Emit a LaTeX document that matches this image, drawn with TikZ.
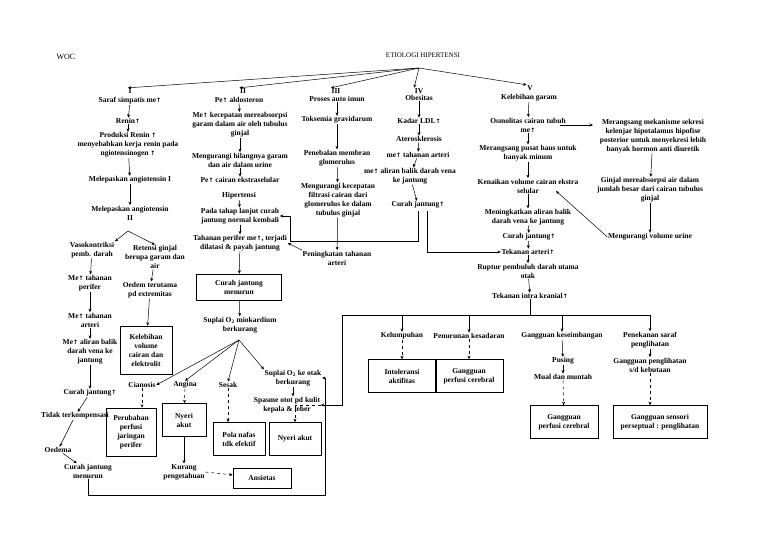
\documentclass[tikz,border=0pt]{standalone}
\usepackage{fontspec}
\setmainfont{Liberation Serif}
\newfontfamily\sym{DejaVu Sans}
\usetikzlibrary{arrows.meta}
\newcommand{\up}{{\sym\fontsize{6}{7}\selectfont↑}}
\begin{document}
\begin{tikzpicture}[x=1pt,y=-1pt,
  every node/.style={font=\fontsize{7.5}{9}\selectfont\bfseries, align=center, inner sep=0.5pt},
  bx/.style={draw, line width=0.6pt, minimum width=#1, minimum height=30pt},
  ar/.style={-{Stealth[length=3.5pt,width=3pt]}, line width=0.5pt},
  da/.style={ar, dashed},
  ln/.style={line width=0.6pt}]
\useasboundingbox (0,0) rectangle (768,543);
\node (woc) at (66,57) {\fontsize{8}{9}\selectfont\mdseries WOC};
\node (eti) at (423,55) {\fontsize{7}{8}\selectfont\mdseries ETIOLOGI HIPERTENSI};
\coordinate (r) at (419,68);
\node (n1) at (130,91) {I};
\node (n2) at (243,91) {II};
\node (n3) at (336,91) {III};
\node (n4) at (419,91) {IV};
\node (n5) at (530,88) {V};
\foreach \n in {n1,n2,n3,n4,n5} \draw[ar] (r) -- (\n.north west);
% column I
\node (a1) at (130,101) {Saraf simpatis me\up};
\node (a2) at (128,121) {Renin\up};
\node (a3) at (128,145) {Produksi Renin \up\\menyebabkan kerja renin pada\\ngiotensinogen \up};
\node (a4) at (130,180) {Melepaskan angiotensin I};
\node (a5) at (130,213) {Melepaskan angiotensin\\II};
\node (a6) at (92,250) {Vasokontriksi\\pemb. darah};
\node (a7) at (90,283) {Me\up\ tahanan\\perifer};
\node (a8) at (90,320) {Me\up\ tahanan\\arteri};
\node (a9) at (90,352) {Me\up\ aliran balik\\darah vena ke\\jantung};
\node (a10) at (90,393) {Curah jantung\up};
\node (a11) at (75,416) {Tidak terkompensasi};
\node (a12) at (58,450) {Oedema};
\node (a13) at (88,471) {Curah jantung\\menurun};
\node (b1) at (155,257) {Retensi ginjal\\berupa garam dan\\air};
\node (b2) at (150,290) {Oedem terutama\\pd extremitas};
\node[bx=52pt,minimum height=48pt] (b3) at (146,350) {Kelebihan\\volume\\cairan dan\\elektrolit};
\draw[ar] (a1)--(a2); \draw[ar] (a2)--(a3); \draw[ar] (a3)--(a4); \draw[ar] (a4)--(a5);
\coordinate (sp) at (128,231);
\draw[ar] (sp)--(a6.north east); \draw[ar] (sp)--(b1.north);
\draw[ar] (a6)--(a7); \draw[ar] (a7)--(a8); \draw[ar] (a8)--(a9); \draw[ar] (a9)--(a10);
\draw[ar] (a10)--(a11); \draw[ar] (a11)--(a12); \draw[ar] (a12)--(a13);
\draw[ar] (b1)--(b2); \draw[ar] (b2)--(b3);
% column II
\node (c1) at (239,100) {Pe\up\ aldosteron};
\node (c2) at (240,125) {Me\up\ kecepatan mereabsorpsi\\garam dalam air oleh tubulus\\ginjal};
\node (c3) at (240,160) {Mengurangi hilangnya garam\\dan air dalam urine};
\node (c4) at (240,180) {Pe\up\ cairan ekstraselular};
\node (c5) at (239,196) {Hipertensi};
\node (c6) at (240,216) {Pada tahap lanjut curah\\jantung normal kembali};
\node (c7) at (240,243) {Tahanan perifer me\up, terjadi\\dilatasi \& payah jantung};
\node[bx=85pt,minimum height=26pt] (c8) at (239,287) {Curah jantung\\menurun};
\node (c9) at (240,325) {Suplai O\textsubscript{2} miokardium\\berkurang};
\draw[ar] (c1)--(c2); \draw[ar] (c2)--(c3); \draw[ar] (c3)--(c4); \draw[ar] (c5)--(c6);
\draw[ar] (c6)--(c7); \draw[ar] (c7)--(c8); \draw[ar] (c8)--(c9);
\coordinate (sp2) at (239,340);
\node (d1) at (142,385) {Cianosis};
\node (d2) at (185,385) {Angina};
\node (d3) at (228,385) {Sesak};
\node (d4) at (293,378) {Suplai O\textsubscript{2} ke otak\\berkurang};
\draw[ar] (sp2)--(d1.east); \draw[ar] (sp2)--(d2.north); \draw[ar] (sp2)--(d3.north); \draw[ar] (sp2)--(d4.north west);
\node[bx=50pt,minimum height=48pt] (e1) at (131,432) {Perubahan\\perfusi\\jaringan\\perifer};
\node[bx=44pt,minimum height=33pt] (e2) at (184,420) {Nyeri\\akut};
\node (e3) at (184,472) {Kurang\\pengetahuan};
\node[bx=58pt,minimum height=20pt] (e4) at (262,478) {Ansietas};
\node[bx=52pt,minimum height=33pt] (e5) at (239,439) {Pola nafas\\tdk efektif};
\node (e6) at (287,405) {Spasme otot pd kulit\\kepala \& leher};
\node[bx=52pt,minimum height=33pt] (e7) at (295,439) {Nyeri akut};
\draw[da] (d1)--(d1|-e1.north); \draw[da] (d2)--(e2); \draw[ar] (e2)--(e3); \draw[da] (e3.east)--(e4);
\draw[da] (d3)--(d3|-e5.north); \draw[ar] (d4)--(d4|-e6.north); \draw[da] (e6)--(e6-|e7) -- (e7.north);
\draw[ar,ln] (a13.south) |- (325,495) |- (d4.east);
% column III
\node (f1) at (337,99) {Proses auto imun};
\node (f2) at (337,120) {Toksemia gravidarum};
\node (f3) at (337,158) {Penebalan membran\\glomerulus};
\node (f4) at (338,200) {Mengurangi kecepatan\\filtrasi cairan dari\\glomerulus ke dalam\\tubulus ginjal};
\node (f5) at (337,258) {Peningkatan tahanan\\arteri};
\draw[ar] (f1)--(f2); \draw[ar] (f2)--(f3); \draw[ar] (f3)--(f4); \draw[ar] (f4)--(f5);
\draw[ar] (f5.north west)--(c7.east);
% column IV
\node (g1) at (419,98) {Obesitas};
\node (g2) at (419,121) {Kadar LDL\up};
\node (g3) at (419,139) {Aterosklerosis};
\node (g4) at (418,155) {me\up\ tahanan arteri};
\node (g5) at (410,176) {me\up\ aliran balik darah vena\\ke jantung};
\node (g6) at (418,205) {Curah jantung\up};
\draw[ar] (g1)--(g2); \draw[ar] (g2)--(g3); \draw[ar] (g3)--(g4); \draw[ar] (g4)--(g5); \draw[ar] (g5)--(g6);
\draw[ar,ln] (418,211) |- (290,241) |- (c6.east);
% column V
\node (h1) at (529,98) {Kelebihan garam};
\node (h2) at (528,125) {Osmolitas cairan tubuh\\me\up};
\node (h3) at (528,153) {Merangsang pusat haus untuk\\banyak minum};
\node (h4) at (528,186) {Kenaikan volume cairan ekstra\\selular};
\node (h5) at (528,217) {Meningkatkan aliran balik\\darah vena ke jantung};
\node (h6) at (529,237) {Curah jantung\up};
\node (h7) at (528,252) {Tekanan arteri\up};
\node (h8) at (528,271) {Ruptur pembuluh darah utama\\otak};
\node (h9) at (530,296) {Tekanan intra kranial\up};
\draw[ar] (h1)--(h2); \draw[ar] (h2)--(h3); \draw[ar] (h3)--(h4); \draw[ar] (h4)--(h5); \draw[ar] (h5)--(h6);
\draw[ar] (h6)--(h7); \draw[ar] (h7)--(h8); \draw[ar] (h8)--(h9);
\draw[ar,ln] (427,211) |- (h7.west);
\node (i1) at (653,136) {Merangsang mekanisme sekresi\\kelenjar hipotalamus hipofise\\posterior untuk menyekresi lebih\\banyak hormon anti diuretik};
\node (i2) at (650,190) {Ginjal mereabsorpsi air dalam\\jumlah besar dari cairan tubulus\\ginjal};
\node (i3) at (650,237) {Mengurangi volume urine};
\draw[ar] (560,125)--(593,125);
\draw[ar] (i1)--(i2); \draw[ar] (i2)--(i3); \draw[ar] (i3.west)--(556,191);
% intracranial branch
\draw[ln] (h9.south) -- (530,315);
\draw[ln] (342,315) -- (650,315);
\draw[ar,ln] (342,315) |- (e6.east);
\node (j1) at (402,336) {Kelumpuhan};
\node (j2) at (469,336) {Penurunan kesadaran};
\node (j3) at (562,336) {Gangguan keseimbangan};
\node (j4) at (650,340) {Penekanan saraf\\penglihatan};
\foreach \j in {j1,j2,j3,j4} \draw[ar] (\j |- 0,315)--(\j.north);
\node[bx=68pt,minimum height=33pt] (k1) at (402,376) {Intoleransi\\aktifitas};
\node[bx=68pt,minimum height=33pt] (k2) at (469,376) {Gangguan\\perfusi cerebral};
\node (k3) at (563,361) {Pusing};
\node (k4) at (563,377) {Mual dan muntah};
\node[bx=68pt,minimum height=33pt] (k5) at (564,422) {Gangguan\\perfusi cerebral};
\node (k6) at (650,365) {Gangguan penglihatan\\s/d kebutaan};
\node[bx=94pt,minimum height=33pt] (k7) at (660,422) {Gangguan sensori\\perseptual : penglihatan};
\draw[da] (j1)--(k1); \draw[da] (j2)--(k2); \draw[ar] (j3)--(k3); \draw[ar] (k3)--(k4); \draw[da] (k4)--(k5);
\draw[ar] (j4)--(k6); \draw[da] (k6)--(k6|-k7.north);
\end{tikzpicture}
\end{document}
